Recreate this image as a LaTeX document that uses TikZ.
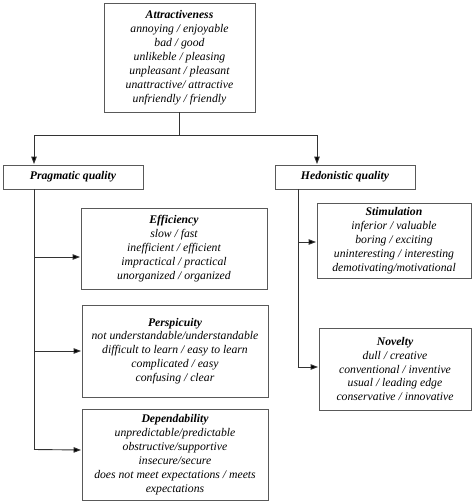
\documentclass[tikz,border=0pt]{standalone}
\usepackage{fontspec}
\setmainfont{Liberation Serif}
\usetikzlibrary{arrows.meta,calc}
\begin{document}
\begin{tikzpicture}[x=1pt,y=-1pt,
  box/.style={draw=black!65,line width=0.9pt,fill=white,inner sep=0pt,align=center,
    font=\fontsize{11.7}{13.9}\selectfont\itshape},
  conn/.style={draw=black!80,line width=0.9pt},
  arr/.style={conn,-{Triangle[length=7.5pt,width=5.5pt,fill=black]},shorten >=0.5pt}]
\useasboundingbox (0,0) rectangle (474,504);
\node[box,minimum width=151pt,minimum height=109pt] (attr) at (179.5,57.5)
 {\textbf{Attractiveness}\\annoying / enjoyable\\bad / good\\unlikeble / pleasing\\unpleasant / pleasant\\unattractive/ attractive\\unfriendly / friendly};
\node[box,minimum width=140pt,minimum height=24pt] (prag) at (73,177) {\textbf{Pragmatic quality}};
\node[box,minimum width=140pt,minimum height=24pt] (hed) at (345,177) {\textbf{Hedonistic quality}};
\node[box,minimum width=186pt,minimum height=81pt] (eff) at (174,248.5)
 {\textbf{Efficiency}\\slow / fast\\inefficient / efficient\\impractical / practical\\unorganized / organized};
\node[box,minimum width=186pt,minimum height=92pt] (persp) at (175,351)
 {\textbf{Perspicuity}\\not understandable/understandable\\difficult to learn / easy to learn\\complicated / easy\\confusing / clear};
\node[box,minimum width=186pt,minimum height=91pt] (dep) at (175,454.5)
 {\textbf{Dependability}\\unpredictable/predictable\\obstructive/supportive\\insecure/secure\\does not meet expectations / meets\\expectations};
\node[box,minimum width=154pt,minimum height=75pt] (stim) at (394,240.5)
 {\textbf{Stimulation}\\inferior / valuable\\boring / exciting\\uninteresting / interesting\\demotivating/motivational};
\node[box,minimum width=152pt,minimum height=82pt] (nov) at (395,369)
 {\textbf{Novelty}\\dull / creative\\conventional / inventive\\usual / leading edge\\conservative / innovative};
% top split
\coordinate (j) at (179.5,135);
\coordinate (pl) at (34,135);
\coordinate (hl) at (317,135);
\draw[conn] (attr.south) -- (j);
\draw[conn] (pl) -- (hl);
\draw[arr] (pl) -- (pl |- prag.north);
\draw[arr] (hl) -- (hl |- hed.north);
% pragmatic trunk
\coordinate (pt) at (34,0);
\draw[conn] (pt |- prag.south) -- (34,450);
\draw[arr] (34,257) -- (eff.west |- 0,257);
\draw[arr] (pt |- persp.west) -- (persp.west);
\draw[arr] (34,449.5) -- (dep.west |- 0,450);
% hedonistic trunk
\coordinate (ht) at (298,0);
\draw[conn] (ht |- hed.south) -- (298,367);
\draw[arr] (298,242) -- (stim.west |- 0,242);
\draw[arr] (297.5,367) -- (nov.west |- 0,367);
\end{tikzpicture}
\end{document}
